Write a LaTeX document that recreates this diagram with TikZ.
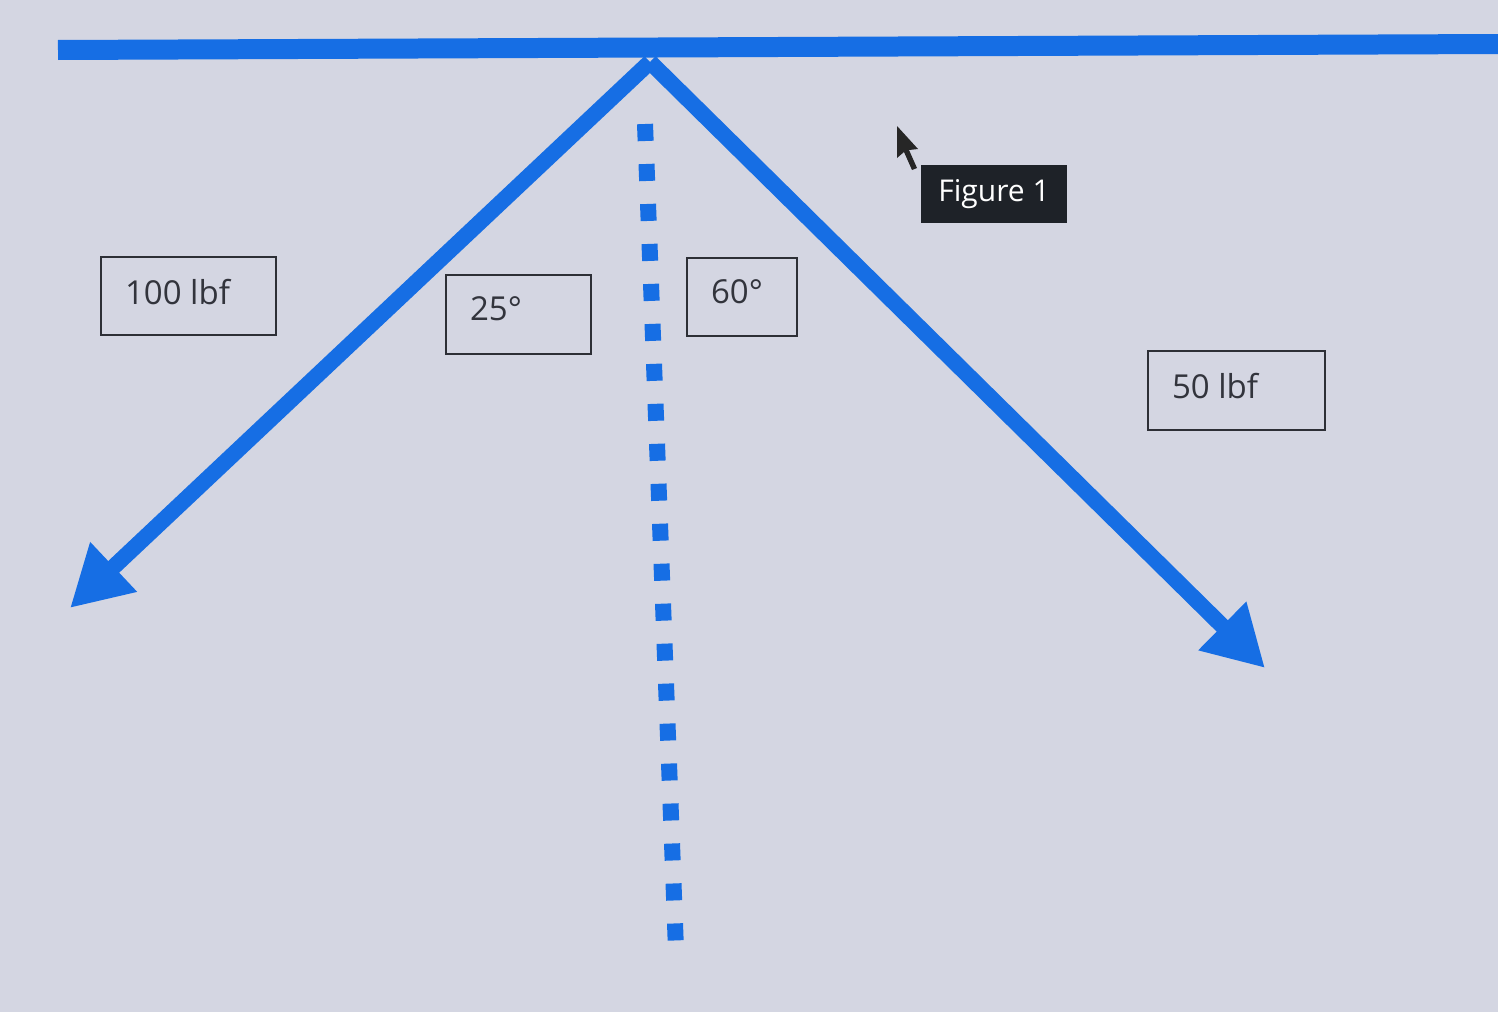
\documentclass[tikz,border=0pt]{standalone}
\usepackage{fontspec}
\setmainfont{Open Sans}
\usetikzlibrary{arrows.meta}
\definecolor{bg}{RGB}{212,214,226}
\definecolor{lineblue}{RGB}{22,110,228}
\definecolor{txt}{RGB}{50,52,60}
\definecolor{tipbg}{RGB}{30,34,40}
\tikzset{
  lbl/.style={draw=txt!90!black, line width=1.2pt, inner sep=0pt, anchor=north west},
  lbltext/.style={anchor=west, text=txt, font=\fontsize{16.5}{19}\selectfont},
  force/.style={lineblue, line width=8pt, -{Triangle[length=30pt,width=32pt]}},
}
\begin{document}
\begin{tikzpicture}[x=0.5pt,y=-0.5pt]
\fill[bg] (0,0) rectangle (1498,1012);
\useasboundingbox (0,0) rectangle (1498,1012);
% beam
\coordinate (beamL) at (58,50);
\coordinate (beamR) at (1498,44);
\draw[lineblue, line width=10pt] (beamL) -- (beamR);
% apex and tips
\coordinate (apex) at (650,62);
\coordinate (ltip) at (70,608);
\coordinate (rtip) at (1265,668);
\coordinate (dtop) at (645,124);
\coordinate (dbot) at (676,950);
\draw[force] (apex) -- (ltip);
\draw[force] (apex) -- (rtip);
% dotted vertical reference
\draw[lineblue, line width=8pt, dash pattern=on 8.5pt off 11.5pt] (dtop) -- (dbot);
% label boxes
\node[lbl, minimum width=87.5pt, minimum height=39pt] (b100) at (100,256) {};
\node[lbltext] (t100) at (118,292) {100 lbf};
\node[lbl, minimum width=72.5pt, minimum height=39.5pt] (b25) at (445,274) {};
\node[lbltext] (t25) at (463,309) {25°};
\node[lbl, minimum width=55pt, minimum height=39pt] (b60) at (686,257) {};
\node[lbltext] (t60) at (704,292) {60°};
\node[lbl, minimum width=88.5pt, minimum height=39.5pt] (b50) at (1147,350) {};
\node[lbltext] (t50) at (1165,386) {50 lbf};
% tooltip
\node[fill=tipbg, text=white, font=\fontsize{15}{17}\selectfont, minimum width=73pt, minimum height=29pt, inner sep=0pt] (fig) at (994,194) {Figure 1};
% mouse cursor
\fill[black!85] (897,126) -- (897,158) -- (904,152) -- (912,170) -- (917,168) -- (909,150) -- (918,149) -- cycle;
\end{tikzpicture}
\end{document}
